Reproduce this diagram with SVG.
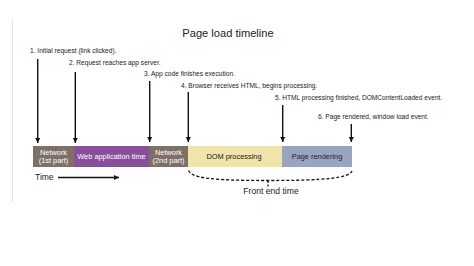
<svg xmlns="http://www.w3.org/2000/svg" width="474" height="266" viewBox="0 0 474 266">
<style>
text{font-family:"Liberation Sans",Arial,sans-serif;fill:#222}
.lbl{font-size:6.6px}
.bar{font-size:7.4px;text-anchor:middle}
.w{fill:#fff}
.arr{stroke:#111;stroke-width:1.4;fill:none;marker-end:url(#ah)}
</style>
<defs>
<marker id="ah" markerUnits="userSpaceOnUse" markerWidth="6" markerHeight="6" refX="5" refY="3" orient="auto">
<path d="M0,0.5 L5,3 L0,5.5 Z" fill="#111"/>
</marker>
</defs>
<rect width="474" height="266" fill="#fff"/>
<line x1="12.5" y1="20" x2="12.5" y2="202" stroke="#e2e2e2" stroke-width="1"/>
<text x="228" y="37" font-size="11.1" text-anchor="middle">Page load timeline</text>

<g id="event1"><text class="lbl" x="30" y="53">1. Initial request (link clicked).</text></g>
<g id="event2"><text class="lbl" x="69" y="65">2. Request reaches app server.</text></g>
<g id="event3"><text class="lbl" x="144" y="76">3. App code finishes execution.</text></g>
<g id="event4"><text class="lbl" x="181" y="88">4. Browser receives HTML, begins processing.</text></g>
<g id="event5"><text class="lbl" x="275" y="100">5. HTML processing finished, DOMContentLoaded event.</text></g>
<g id="event6"><text class="lbl" x="318" y="119">6. Page rendered, window load event.</text></g>

<g id="network1"><rect x="33" y="146" width="41" height="21" fill="#7e6f67"/>
<text class="bar w" x="53.5" y="155">Network</text><text class="bar w" x="53.5" y="163">(1st part)</text></g>
<g id="webapp"><rect x="74" y="146" width="75" height="21" fill="#8a4f9b"/>
<text class="bar w" x="111.5" y="159">Web application time</text></g>
<g id="network2"><rect x="149" y="146" width="39" height="21" fill="#7e6f67"/>
<text class="bar w" x="168.5" y="155">Network</text><text class="bar w" x="168.5" y="163">(2nd part)</text></g>
<g id="dom"><rect x="188" y="146" width="94" height="21" fill="#efe4aa"/>
<text class="bar" x="234" y="159">DOM processing</text></g>
<g id="render"><rect x="282" y="146" width="70" height="21" fill="#99a4c3"/>
<text class="bar" x="317" y="159">Page rendering</text></g>

<g id="time"><text x="35" y="180" font-size="8.5">Time</text></g>
<g id="frontend"><text x="271" y="194" font-size="8.6" text-anchor="middle">Front end time</text></g>

<g id="connectors">
<line class="arr" x1="37.7" y1="59" x2="37.7" y2="143"/>
<line class="arr" x1="75.3" y1="72" x2="75.3" y2="143"/>
<line class="arr" x1="149.7" y1="81" x2="149.7" y2="142"/>
<line class="arr" x1="188.3" y1="92" x2="188.3" y2="142"/>
<line class="arr" x1="282.7" y1="105" x2="282.7" y2="142"/>
<line class="arr" x1="351.3" y1="124" x2="351.3" y2="142"/>
<line class="arr" x1="58" y1="177.5" x2="119" y2="177.5"/>
<path d="M188.5,170.5 C192,178 210,180.5 268,180.5 C326,180.5 349,178 352,171" fill="none" stroke="#111" stroke-width="1.3" stroke-dasharray="3,2"/>
<line x1="268" y1="181" x2="268" y2="187" stroke="#111" stroke-width="1.3" stroke-dasharray="2,1.5"/>
</g>
</svg>
